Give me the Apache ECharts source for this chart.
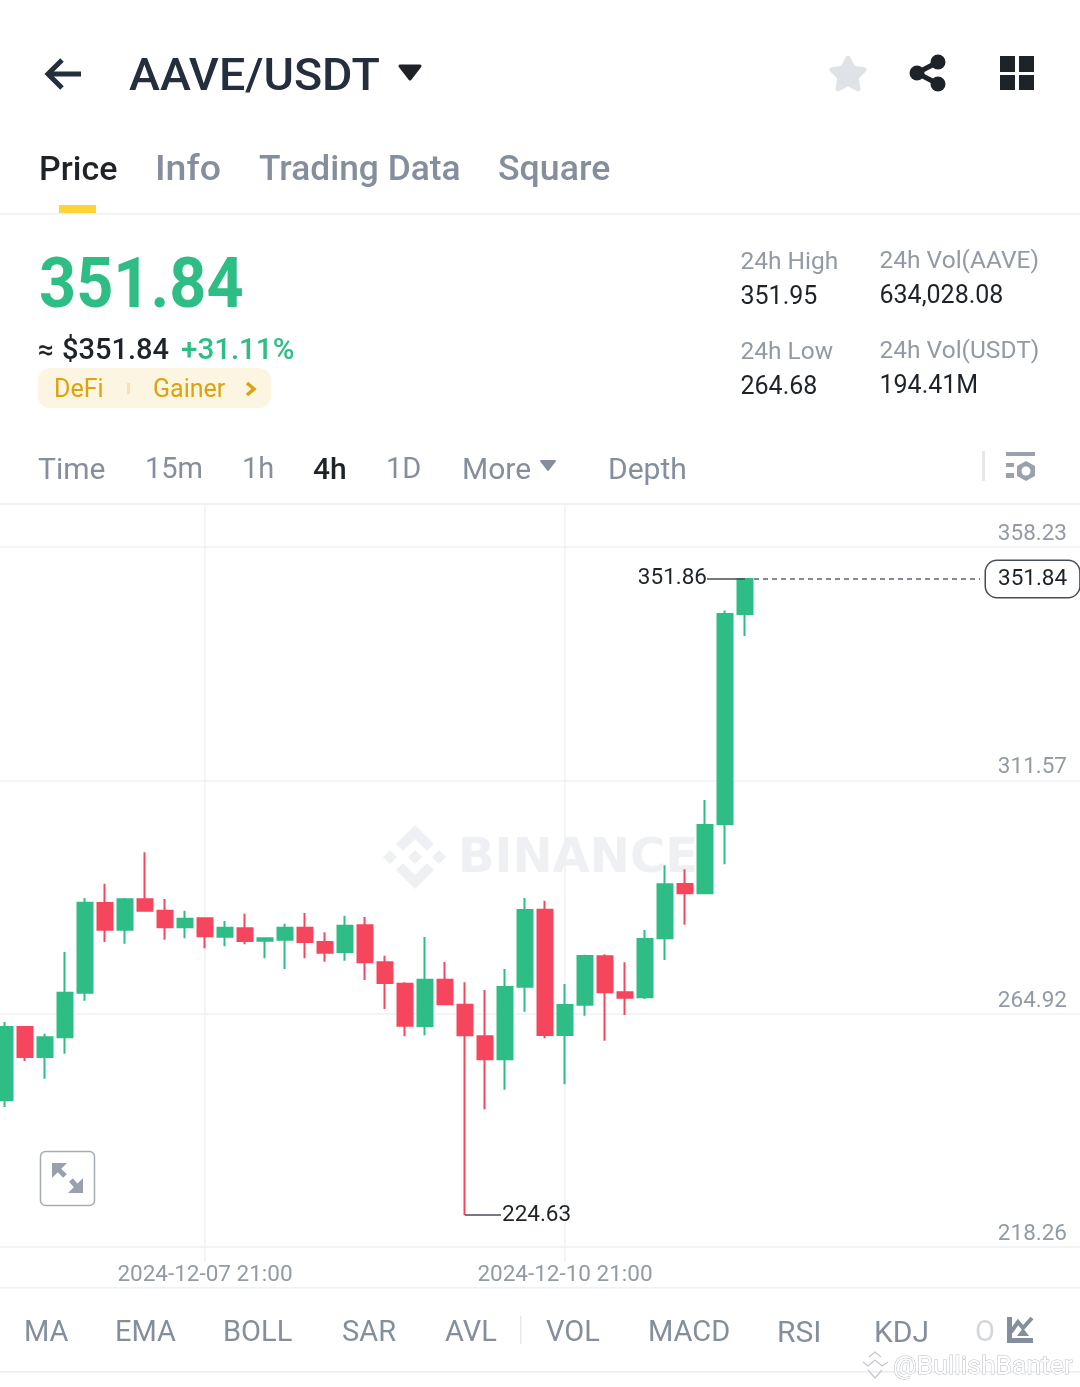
<!DOCTYPE html>
<html>
<head>
<meta charset="utf-8">
<title>AAVE/USDT</title>
<script src="https://cdn.jsdelivr.net/npm/echarts@6/dist/echarts.min.js"></script>
<style>
html,body{margin:0;padding:0;background:#fff;}
#main{width:1080px;height:1387px;}
</style>
</head>
<body>
<div id="main"></div>
<script>
// 4h candles
var times = [
	'2024-12-06 05:00','2024-12-06 09:00','2024-12-06 13:00','2024-12-06 17:00','2024-12-06 21:00',
	'2024-12-07 01:00','2024-12-07 05:00','2024-12-07 09:00','2024-12-07 13:00','2024-12-07 17:00','2024-12-07 21:00',
	'2024-12-08 01:00','2024-12-08 05:00','2024-12-08 09:00','2024-12-08 13:00','2024-12-08 17:00','2024-12-08 21:00',
	'2024-12-09 01:00','2024-12-09 05:00','2024-12-09 09:00','2024-12-09 13:00','2024-12-09 17:00','2024-12-09 21:00',
	'2024-12-10 01:00','2024-12-10 05:00','2024-12-10 09:00','2024-12-10 13:00','2024-12-10 17:00','2024-12-10 21:00',
	'2024-12-11 01:00','2024-12-11 05:00','2024-12-11 09:00','2024-12-11 13:00','2024-12-11 17:00','2024-12-11 21:00',
	'2024-12-12 01:00','2024-12-12 05:00','2024-12-12 09:00'
];
var opens = [247.65,262.25,256.25,260.19,269.11,287.05,281.71,287.79,285.51,282.19,283.99,280.31,281.99,279.51,279.71,282.11,279.25,277.25,282.59,275.19,270.91,262.45,271.71,266.71,260.39,255.79,270.31,285.71,260.65,266.71,276.39,269.19,268.19,279.99,290.85,288.99,302.85,344.85];
var closes = [262.25,256.25,260.19,269.11,287.11,281.71,287.79,285.51,282.19,283.91,280.39,282.11,279.45,279.99,282.11,279.25,277.11,282.51,275.19,271.05,262.51,271.71,266.79,260.59,255.79,270.25,285.65,260.65,266.65,276.45,269.19,268.11,279.85,290.79,288.99,302.65,344.85,351.84];
var lows = [246.25,255.45,251.91,256.91,267.51,279.25,278.91,285.31,279.71,279.99,277.99,278.39,278.79,275.99,273.85,275.99,275.31,275.51,271.65,265.85,260.39,260.59,266.59,224.63,245.79,249.71,265.31,259.99,250.79,264.51,259.51,264.65,267.85,275.65,282.71,288.99,294.79,340.45];
var highs = [263.25,262.25,260.91,277.25,288.05,290.91,288.05,297.19,287.85,285.51,284.19,283.45,284.91,279.99,282.91,285.05,281.19,284.51,284.25,276.51,271.19,280.25,275.25,271.19,269.65,273.85,288.05,287.51,270.85,276.71,276.79,275.19,281.65,294.59,293.79,307.65,345.51,351.86];
var priceTicks = [218.26,264.92,311.57,358.23];
var dateTicks = ['2024-12-07 21:00','2024-12-10 21:00'];
var lastPrice = 351.84;
var visibleHigh = 351.86;
var visibleLow = 224.63;

var GREEN = '#2EBD85', RED = '#F6465D', DARK = '#1E2329', TITLE = '#252E3D';
var GREY = '#848E9C', AXIS_GREY = '#929AA5', ICON_GREY = '#9AA1AD', RULE = '#F0F1F3';
var FONT = 'Roboto';

var candles = [];
for(var i = 0; i < times.length; i++){
	candles.push([opens[i], closes[i], lows[i], highs[i]]);
}
// empty room on the right of the last candle
var categories = times.slice();
for(var j = 0; j < 17; j++){
	categories.push('+' + j);
}

function text(x, y, str, size, color, weight, scaleX){
	return {
		type: 'text', silent: true, z: 5,
		x: x, y: y + Math.round(size * 0.09), scaleX: scaleX || 1,
		style: {
			text: str, fill: color,
			font: (weight || 400) + ' ' + size + 'px ' + FONT,
			textVerticalAlign: 'middle'
		}
	};
}
function rect(x, y, w, h, fill, r){
	return {type: 'rect', silent: true, z: 5, shape: {x: x, y: y, width: w, height: h, r: r || 0}, style: {fill: fill}};
}
function poly(points, fill, z){
	return {type: 'polygon', silent: true, z: z === undefined ? 5 : z, shape: {points: points}, style: {fill: fill}};
}
function line(points, color, width){
	return {type: 'polyline', silent: true, z: 5, shape: {points: points}, style: {stroke: color, lineWidth: width, fill: null, lineJoin: 'miter'}};
}
function dot(x, y, r, fill){
	return {type: 'circle', silent: true, z: 5, shape: {cx: x, cy: y, r: r}, style: {fill: fill}};
}
function starPoints(cx, cy, R, r){
	var pts = [];
	for(var k = 0; k < 10; k++){
		var a = -Math.PI / 2 + k * Math.PI / 5;
		var d = k % 2 ? r : R;
		pts.push([cx + d * Math.cos(a), cy + d * Math.sin(a)]);
	}
	return pts;
}

var chrome = [
	// header
	line([[81,74],[48,74]], TITLE, 5),
	line([[62,60],[48,74],[62,88]], TITLE, 5),
	text(129, 75, 'AAVE/USDT', 45, TITLE, 500, 1.035),
	{type:'polygon', silent:true, z:5, shape:{points:[[400,66],[420,66],[410,79]]}, style:{fill:DARK, stroke:DARK, lineWidth:3, lineJoin:'round'}},
	{type:'polygon', silent:true, z:5, shape:{points:starPoints(848,75,17,8.5)}, style:{fill:'#DFE2E6', stroke:'#DFE2E6', lineWidth:5, lineJoin:'round'}},
	line([[938,62],[917,73],[938,84]], DARK, 5),
	dot(917, 73, 7.5, DARK), dot(938, 62, 7.5, DARK), dot(938, 84, 7.5, DARK),
	rect(1000, 56, 15, 16, DARK), rect(1019, 56, 15, 16, DARK),
	rect(1000, 75, 15, 15, DARK), rect(1019, 75, 15, 15, DARK),

	// tabs
	text(39, 168, 'Price', 34, DARK, 500),
	text(155, 168, 'Info', 35, GREY, 500, 1.07),
	text(259, 168, 'Trading Data', 35, GREY, 500, 1.01),
	text(498, 168, 'Square', 35, GREY, 500, 1.02),
	rect(59, 205, 37, 8, '#FCD535'),
	rect(0, 213, 1080, 1.5, RULE),

	// price block
	text(39, 283, '351.84', 70, GREEN, 700, 0.925),
	text(38, 349, '≈', 28, DARK, 500),
	text(62, 349, '$351.84', 29, DARK, 500),
	text(181, 349, '+31.11%', 29.5, GREEN, 500),
	rect(38, 368, 233, 40, '#FCF5E2', 12),
	text(54, 389, 'DeFi', 25, '#DCA30B'),
	rect(127, 383, 3, 11, '#F5E3AC'),
	text(153, 389, 'Gainer', 25, '#DCA30B'),
	line([[247,383],[254,389],[247,395]], '#DCA30B', 3.5),

	// 24h stats
	text(740.5, 261, '24h High', 24.5, AXIS_GREY),
	text(740.5, 296, '351.95', 25, DARK),
	text(879.5, 260, '24h Vol(AAVE)', 24.5, AXIS_GREY),
	text(879.5, 295, '634,028.08', 25, DARK),
	text(740.5, 351, '24h Low', 24.5, AXIS_GREY),
	text(740.5, 386, '264.68', 25, DARK),
	text(879.5, 350, '24h Vol(USDT)', 24.5, AXIS_GREY),
	text(879.5, 385, '194.41M', 25, DARK),

	// intervals
	text(38, 468, 'Time', 30, GREY),
	text(145, 468, '15m', 29, GREY),
	text(242, 468, '1h', 29, GREY),
	text(313, 468, '4h', 30, DARK, 500),
	text(386, 468, '1D', 29, GREY),
	text(462, 468, 'More', 30, GREY),
	{type:'polygon', silent:true, z:5, shape:{points:[[541,461],[555,461],[548,470]]}, style:{fill:GREY, stroke:GREY, lineWidth:2, lineJoin:'round'}},
	text(608, 468, 'Depth', 30, GREY),
	rect(982, 451, 3, 30, '#E6E8EC'),
	rect(1006, 452, 29, 4, ICON_GREY),
	rect(1006, 463, 8, 4, ICON_GREY),
	rect(1006, 473, 8, 5, ICON_GREY),
	poly([[1026,461],[1035,466],[1035,476],[1026,481],[1017,476],[1017,466]], ICON_GREY),
	dot(1026, 471, 4.5, '#fff'),
	rect(0, 503, 1080, 2, RULE),

	// watermark, stays behind the candles
	poly([[415,850],[422,857],[415,864],[408,857]], '#EEF0F3', 0),
	poly([[390,850],[397,857],[390,864],[383,857]], '#EEF0F3', 0),
	poly([[439,850],[446,857],[439,864],[432,857]], '#EEF0F3', 0),
	poly([[415,825],[434,844],[427,851],[415,839],[403,851],[396,844]], '#EEF0F3', 0),
	poly([[415,889],[434,870],[427,863],[415,875],[403,863],[396,870]], '#EEF0F3', 0),
	{type:'text', silent:true, z:0, style:{x:458, y:860, text:'BINANCE', fill:'#EEF0F3', font:'700 48px "DejaVu Sans"', textVerticalAlign:'middle'}},

	// expand button
	{type:'rect', silent:true, z:5, shape:{x:40.5, y:1151.5, width:54, height:54, r:5}, style:{fill:'#fff', stroke:'#A5ACB7', lineWidth:1.5}},
	poly([[52,1163],[67,1163],[52,1178]], ICON_GREY),
	line([[58,1169],[65,1176]], ICON_GREY, 5),
	poly([[83,1193],[83,1178],[68,1193]], ICON_GREY),
	line([[77,1187],[71,1180]], ICON_GREY, 5),

	// indicator row
	rect(0, 1287, 1080, 1.5, RULE),
	text(24, 1331, 'MA', 29, GREY),
	text(115, 1331, 'EMA', 29, GREY),
	text(223, 1331, 'BOLL', 29, GREY),
	text(342, 1331, 'SAR', 29, GREY),
	text(445, 1331, 'AVL', 29, GREY),
	rect(520, 1316, 1.5, 28, '#E6E8EC'),
	text(546, 1331, 'VOL', 29, GREY),
	text(648, 1331, 'MACD', 29, GREY),
	text(777, 1331, 'RSI', 30, GREY),
	text(874, 1331, 'KDJ', 30, GREY),
	text(975, 1331, 'O', 29, '#D3D6DB'),
	rect(1007, 1317, 5, 26, GREY),
	rect(1007, 1338, 26, 5, GREY),
	line([[1011,1332],[1018,1322],[1023,1328],[1032,1318]], GREY, 4),
	poly([[1017,1336],[1023,1328],[1029,1336]], GREY),
	rect(0, 1371, 1080, 1.5, '#EBECEE'),

	// re-post stamp
	line([[863,1362],[868,1366],[875,1360],[882,1366],[888,1362]], '#C4C7CC', 1.2),
	line([[869,1357],[875,1352],[881,1357]], '#C4C7CC', 1.2),
	line([[868,1370],[875,1378],[882,1370]], '#C4C7CC', 1.2),
	{type:'text', silent:true, z:6, style:{x:893, y:1367, text:'@BullishBanter', fill:'#fff', stroke:'#B9BDC3', lineWidth:1, font:'400 26.5px ' + FONT, textVerticalAlign:'middle'}}
];

var chart = echarts.init(document.getElementById('main'), null, {renderer: 'canvas'});
var option = {
	animation: false,
	backgroundColor: '#fff',
	graphic: {elements: chrome},
	grid: {left: -5, right: -15, top: 505, height: 757, containLabel: false, outerBoundsMode: 'none'},
	xAxis: {
		type: 'category',
		data: categories,
		boundaryGap: true,
		axisLine: {show: false},
		axisTick: {show: false, alignWithLabel: true, customValues: dateTicks},
		axisLabel: {
			customValues: dateTicks,
			margin: 2,
			color: AXIS_GREY,
			fontFamily: FONT,
			fontSize: 22.5,
			hideOverlap: false
		},
		splitLine: {show: true, alignWithLabel: true, lineStyle: {color: RULE, width: 1.5}}
	},
	yAxis: {
		type: 'value',
		position: 'right',
		min: 215.26,
		max: 366.63,
		scale: true,
		axisLine: {show: false},
		axisTick: {show: false, customValues: priceTicks},
		axisLabel: {
			inside: true,
			customValues: priceTicks,
			margin: 28,
			color: AXIS_GREY,
			fontFamily: FONT,
			fontSize: 22.5,
			verticalAlign: 'bottom',
			padding: [0, 0, 1, 0],
			showMinLabel: true,
			showMaxLabel: true,
			formatter: function(v){
				return v.toFixed(2);
			}
		},
		splitLine: {show: true, lineStyle: {color: RULE, width: 1.5}}
	},
	series: [
		{
			type: 'candlestick',
			data: candles,
			barWidth: 16,
			itemStyle: {
				color: GREEN,
				color0: RED,
				borderColor: GREEN,
				borderColor0: RED,
				borderWidth: 2
			},
			markLine: {
				silent: true,
				symbol: 'none',
				animation: false,
				label: {fontFamily: FONT, fontSize: 22.5, color: DARK},
				data: [
					[
						{x: 707, yAxis: visibleHigh, lineStyle: {color: '#474D57', type: 'solid', width: 1.5},
							label: {position: 'start', distance: 0, formatter: visibleHigh.toFixed(2)}},
						{x: 745, yAxis: visibleHigh}
					],
					[
						{x: 465, yAxis: visibleLow, lineStyle: {color: '#474D57', type: 'solid', width: 1.5},
							label: {position: 'end', distance: 1, formatter: visibleLow.toFixed(2)}},
						{x: 501, yAxis: visibleLow}
					],
					[
						{x: 754, yAxis: lastPrice, lineStyle: {color: '#5E6673', type: [5, 4], width: 1.5},
							label: {
								position: 'end', distance: 6, formatter: lastPrice.toFixed(2),
								backgroundColor: '#fff', borderColor: '#474D57', borderWidth: 1.5, borderRadius: 11,
								padding: [8, 12, 5, 12]
							}},
						{x: 980, yAxis: lastPrice}
					]
				]
			}
		}
	]
};
chart.setOption(option);
</script>
</body>
</html>
